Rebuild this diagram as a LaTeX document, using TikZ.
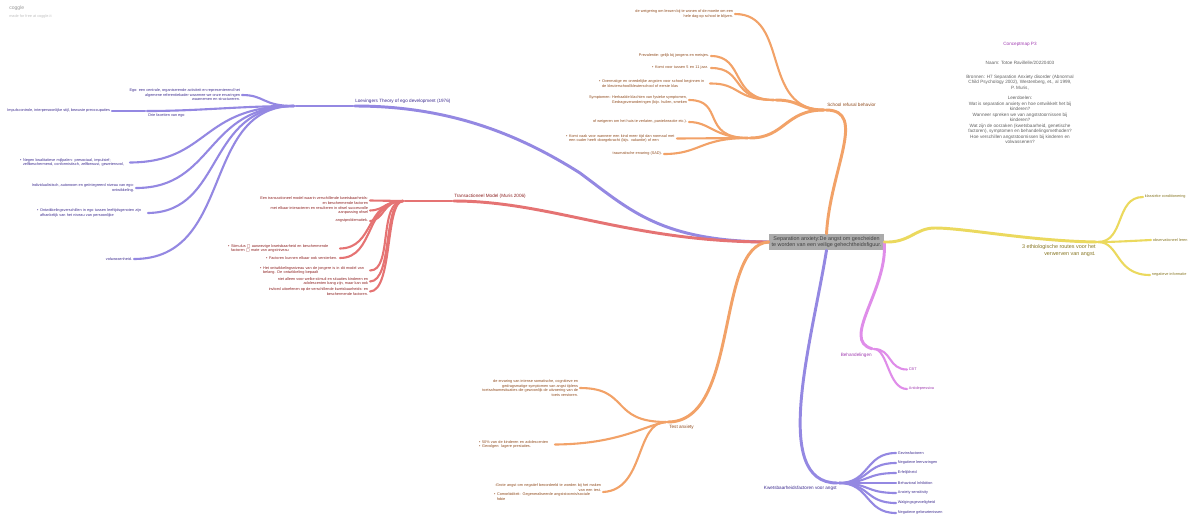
\documentclass[tikz,border=0pt]{standalone}
\usepackage{fontspec}
\setmainfont{Liberation Sans}
\newfontfamily\symfont{DejaVu Sans}
\definecolor{linepurple}{HTML}{9488E2}
\definecolor{linered}{HTML}{E57373}
\definecolor{lineorange}{HTML}{F2A268}
\definecolor{linepink}{HTML}{DF8DE9}
\definecolor{lineyellow}{HTML}{EBD95E}
\definecolor{textpurple}{HTML}{3D2C8F}
\definecolor{textred}{HTML}{8C2020}
\definecolor{textorange}{HTML}{8F4A1C}
\definecolor{textpink}{HTML}{A03CB0}
\definecolor{textyellow}{HTML}{857420}
\newcommand{\bul}{\leavevmode\llap{\textbullet\hspace{1.2pt}}}
\newcommand{\sqbox}{{\symfont □}}
\tikzset{
  small/.style={font=\fontsize{2.72}{3.2}\selectfont,inner sep=0pt},
  big/.style={font=\fontsize{3.3}{4}\selectfont,inner sep=0pt},
  mid/.style={font=\fontsize{3.3}{4}\selectfont,inner sep=0pt},
  leafl/.style={small,anchor=east,align=right,outer sep=1.4pt},
  leafr/.style={small,anchor=east,align=left,outer sep=1.4pt},
  leaft/.style={small,anchor=west,align=left,outer sep=1.4pt},
  joint/.style={circle,inner sep=0pt,minimum size=0.9pt},
  twig/.style={line width=1.5pt,line cap=round},
  trunk/.style={line width=2.1pt,line cap=round},
  note/.style={font=\fontsize{3.3}{3.9}\selectfont,inner sep=0pt,align=center,text=black!62},
}
\begin{document}
\begin{tikzpicture}[x=0.25mm,y=-0.25mm]
   \useasboundingbox (0,0) rectangle (1200,527);
   % top left
   \node[font=\fontsize{3.6}{4}\selectfont,inner sep=0pt,anchor=west,text=black!40] (logo) at (9,8) {coggle};
   \node[small,anchor=west,text=black!25] (made) at (9,16.5) {made for free at coggle.it};
   % centre
   \node[fill=black!33,text=black!75,font=\fontsize{3.85}{4.3}\selectfont,align=center,minimum width=28.75mm,minimum height=4mm,inner sep=0pt] (anx) at (826.5,242)
     {Separation anxiety:De angst om gescheiden\\te worden van een veilige gehechtheidsfiguur.};
   % notes on the right
   \node[note,text=textpink] (concept) at (1020,44) {Conceptmap P3};
   \node[note] (naam) at (1020,63) {Naam: Totoe Ravillelle/20220403};
   \node[note] (bron) at (1020,82.5) {Bronnen: H7 Separation Anxiety disorder (Abnormal\\Child Psychology 2002), Westenberg, et., al 1999,\\P. Muris,};
   \node[note] (doel) at (1020,120) {Leerdoelen:\\Wat is separation anxiety en hoe ontwikkelt het bij\\kinderen?\\Wanneer spreken we van angststoornissen bij\\kinderen?\\Wat zijn de oorzaken (kwetsbaarheid, genetische\\factoren), symptomen en behandelingsmethoden?\\Hoe verschillen angststoornissen bij kinderen en\\volwassenen?};
   % Loevinger
   \node[joint] (loe) at (354,106) {};
   \node[joint] (fac) at (295,106) {};
   \node[joint] (dri) at (146,111) {};
   \coordinate (lbend) at (580,173);
   \node[big,anchor=west,text=textpurple] (loetxt) at (355,101) {Loevingers Theory of ego development (1976)};
   \node[small,anchor=west,text=textpurple] (dritxt) at (148,116) {Drie facetten van ego};
   \node[leafl,text=textpurple] (ego) at (242,95) {Ego: een centrale, organiserende activiteit en representerend het\\algemene referentiekader waarmee we onze ervaringen\\waarnemen en structureren.};
   \node[leafl,text=textpurple] (imp) at (112,111) {Impulscontrole, interpersoonlijke stijl, bewuste preoccupaties};
   \node[leafr,text=textpurple,text width=26.25mm] (neg) at (130,162.5) {\bul Negen kwalitatieve mijlpalen: presociaal, impulsief;\\zelfbeschermend, conformistisch, zelfbewust, gewetensvol,};
   \node[leafl,text=textpurple] (ind) at (136,188) {Individualistisch, autonoom en geïntegreerd niveau van ego-\\ontwikkeling.};
   \node[leafr,text=textpurple,text width=26.5mm] (ont) at (148,213) {\bul Ontwikkelingsverschillen in ego tussen leeftijdsgenoten zijn\\afhankelijk van het niveau van persoonlijke};
   \node[leafl,text=textpurple] (vol) at (134,259) {volwassenheid.};
   \draw[trunk,linepurple] (loe) .. controls (450,106) and (520,135) .. (lbend) .. controls (630,210) and (660,241) .. (anx.west);
   \draw[trunk,linepurple] (loe) -- (fac);
   \draw[twig,linepurple] (ego.east) .. controls (265,95) and (262,106) .. (fac);
   \draw[twig,linepurple] (imp.east) -- (dri);
   \draw[twig,linepurple] (dri) .. controls (200,111) and (240,106) .. (fac);
   \draw[twig,linepurple] (neg.east) .. controls (210,162) and (200,106) .. (fac);
   \draw[twig,linepurple] (ind.east) .. controls (215,188) and (205,106) .. (fac);
   \draw[twig,linepurple] (ont.east) .. controls (225,212) and (205,106) .. (fac);
   \draw[twig,linepurple] (vol.east) .. controls (235,259) and (200,106) .. (fac);
   % Muris
   \node[joint] (tra) at (453,201) {};
   \node[joint] (mur) at (404,201) {};
   \node[big,anchor=west,text=textred] (tratxt) at (454,196) {Transactioneel Model (Muris 2006)};
   \node[leafl,text=textred] (een) at (370,200.5) {Een transactioneel model waarin verschillende kwetsbaarheids-\\en beschermende factoren};
   \node[leafl,text=textred] (met) at (370,210.5) {met elkaar interacteren en resulteren in ofwel succesvolle\\aanpassing ofwel};
   \node[leafl,text=textred] (pro) at (370,221) {angstproblematiek.};
   \node[leafr,text=textred,text width=26.75mm] (sti) at (340,248.5) {\bul Stimulus \sqbox\ aanwezige kwetsbaarheid en beschermende\\factoren \sqbox\ mate van angstniveau};
   \node[leafr,text=textred,text width=17.25mm] (fak) at (340,258) {\bul Factoren kunnen elkaar ook versterken.};
   \node[leafr,text=textred,text width=26.25mm] (het) at (370,270.5) {\bul Het ontwikkelingsniveau van de jongere is in dit model van\\belang. De ontwikkeling bepaalt};
   \node[leafl,text=textred] (nie) at (370,281.5) {niet alleen voor welke stimuli en situaties kinderen en\\adolescenten bang zijn, maar kan ook};
   \node[leafl,text=textred] (inv) at (370,291.5) {invloed uitoefenen op de verschillende kwetsbaarheids- en\\beschermende factoren.};
   \draw[trunk,linered] (tra) .. controls (550,201) and (630,242) .. (anx.west);
   \draw[trunk,linered] (tra) -- (mur);
   \draw[twig,linered] (een.east) -- (mur);
   \draw[twig,linered] (met.east) .. controls (385,210) and (385,201) .. (mur);
   \draw[twig,linered] (pro.east) .. controls (385,220) and (382,201) .. (mur);
   \draw[twig,linered] (sti.east) .. controls (375,248) and (365,201) .. (mur);
   \draw[twig,linered] (fak.east) .. controls (375,258) and (365,201) .. (mur);
   \draw[twig,linered] (het.east) .. controls (393,271) and (378,201) .. (mur);
   \draw[twig,linered] (nie.east) .. controls (393,281) and (383,201) .. (mur);
   \draw[twig,linered] (inv.east) .. controls (393,291) and (385,201) .. (mur);
   % school refusal
   \node[joint] (sch) at (825,110) {};
   \node[joint] (sca) at (775,100) {};
   \node[joint] (scb) at (749,138) {};
   \node[mid,anchor=west,text=textorange] (schtxt) at (827,104.5) {School refusal behavior};
   \node[leafl,text=textorange] (wei) at (735,14) {de weigering om lessen bij te wonen of de moeite om een\\hele dag op school te blijven.};
   \node[leafl,text=textorange] (pre) at (711,56) {Prevalentie: gelijk bij jongens en meisjes.};
   \node[leafr,text=textorange,text width=13.5mm] (kom) at (711,68) {\bul Komt voor tussen 5 en 11 jaar.};
   \node[leafr,text=textorange,text width=26.5mm] (ove) at (710,83.5) {\bul Overmatige en onredelijke angsten voor school beginnen in\\de kleuterschool/kleuterschool of eerste klas};
   \node[leafl,text=textorange] (sym) at (689,100) {Symptomen: Herhaalde klachten van fysieke symptomen,\\Gedragsveranderingen (bijv. huilen, smeken};
   \node[leafl,text=textorange] (huis) at (689,122) {of weigeren om het huis te verlaten, paniekreactie etc.).};
   \node[leafr,text=textorange,text width=26.5mm] (vaak) at (677,138.5) {\bul Komt vaak voor wanneer een kind meer tijd dan normaal met\\een ouder heeft doorgebracht (bijv. vakantie) of een};
   \node[leafl,text=textorange] (tra2) at (664,154) {traumatische ervaring (SAD).};
   \draw[trunk,lineorange] (sch) .. controls (868,110) and (830,170) .. (anx.north);
   \draw[trunk,lineorange] (sch) .. controls (800,110) and (800,100) .. (sca);
   \draw[trunk,lineorange] (sch) .. controls (785,110) and (785,138) .. (scb);
   \draw[twig,lineorange] (wei.east) .. controls (790,14) and (760,110) .. (sch);
   \draw[twig,lineorange] (pre.east) .. controls (745,56) and (730,100) .. (sca);
   \draw[twig,lineorange] (kom.east) .. controls (745,68) and (730,100) .. (sca);
   \draw[twig,lineorange] (ove.east) .. controls (740,83) and (735,100) .. (sca);
   \draw[twig,lineorange] (sym.east) .. controls (725,100) and (700,138) .. (scb);
   \draw[twig,lineorange] (huis.east) .. controls (710,122) and (715,138) .. (scb);
   \draw[twig,lineorange] (vaak.east) -- (scb);
   \draw[twig,lineorange] (tra2.east) .. controls (700,154) and (700,138) .. (scb);
   % test anxiety
   \node[joint] (tes) at (667,422) {};
   \node[mid,anchor=west,text=textorange] (testxt) at (669,427) {Test anxiety};
   \node[leafl,text=textorange] (erv) at (580,388) {de ervaring van intense somatische, cognitieve en\\gedragsmatige symptomen van angst tijdens\\toetsafnamesituaties die gewoonlijk de uitvoering van de\\toets verstoren.};
   \node[leafr,text=textorange,text width=17.75mm] (hel) at (555,444.5) {\bul 50\% van de kinderen en adolescenten\\\bul Gevolgen: lagere prestaties.};
   \node[leafr,text=textorange,text width=27.25mm] (gro) at (603,492) {\hfill-Grote angst om negatief beoordeeld te worden bij het maken\\\hfill van een test.\\\hspace*{1.25mm}\bul Comorbiditeit: Gegeneraliseerde angststoornis/sociale\\\hspace*{1.25mm}fobie};
   \draw[trunk,lineorange] (tes) .. controls (740,422) and (715,245) .. (anx.west);
   \draw[twig,lineorange] (erv.east) .. controls (630,388) and (610,422) .. (tes);
   \draw[twig,lineorange] (hel.east) .. controls (620,444) and (645,425) .. (tes);
   \draw[twig,lineorange] (gro.east) .. controls (645,490) and (635,422) .. (tes);
   % treatment
   \node[joint] (beh) at (873,349) {};
   \node[mid,anchor=east,text=textpink] (behtxt) at (872,355) {Behandelingen};
   \node[leaft,text=textpink] (cbt) at (907,369.5) {CBT};
   \node[leaft,text=textpink] (ant) at (907,389) {Antidepressiva};
   \draw[trunk,linepink] (anx.east) .. controls (888,290) and (840,340) .. (beh);
   \draw[twig,linepink] (beh) .. controls (892,349) and (888,369.5) .. (cbt.west);
   \draw[twig,linepink] (beh) .. controls (888,349) and (888,389) .. (ant.west);
   % vulnerability
   \node[joint] (kwe) at (838,483) {};
   \node[mid,anchor=east,text=textpurple] (kwetxt) at (837,488) {Kwetsbaarheidsfactoren voor angst};
   \node[leaft,text=textpurple] (k1) at (896,453) {Gezinsfactoren};
   \node[leaft,text=textpurple] (k2) at (896,463) {Negatieve leervaringen};
   \node[leaft,text=textpurple] (k3) at (896,473) {Erfelijkheid};
   \node[leaft,text=textpurple] (k4) at (896,483) {Behavioral Inhibition};
   \node[leaft,text=textpurple] (k5) at (896,493) {Anxiety sensitivity};
   \node[leaft,text=textpurple] (k6) at (896,503) {Walgingsgevoeligheid};
   \node[leaft,text=textpurple] (k7) at (896,513) {Negatieve gebeurtenissen};
   \draw[trunk,linepurple] (anx.south) .. controls (812,340) and (770,483) .. (kwe);
   \draw[twig,linepurple] (kwe) .. controls (870,483) and (865,453) .. (k1.west);
   \draw[twig,linepurple] (kwe) .. controls (870,483) and (865,463) .. (k2.west);
   \draw[twig,linepurple] (kwe) .. controls (870,483) and (865,473) .. (k3.west);
   \draw[twig,linepurple] (kwe) -- (k4.west);
   \draw[twig,linepurple] (kwe) .. controls (870,483) and (865,493) .. (k5.west);
   \draw[twig,linepurple] (kwe) .. controls (870,483) and (865,503) .. (k6.west);
   \draw[twig,linepurple] (kwe) .. controls (870,483) and (865,513) .. (k7.west);
   % routes
   \coordinate (ybend) at (935,228);
   \node[joint] (yel) at (1097,242) {};
   \node[font=\fontsize{3.85}{5}\selectfont,inner sep=0pt,anchor=east,align=right,text=textyellow] (yeltxt) at (1096,251) {3 ethiologische routes voor het\\verwerven van angst.};
   \node[leaft,text=textyellow] (kla) at (1143,197) {klassieke conditionering};
   \node[leaft,text=textyellow] (obs) at (1151,240) {observationeel leren};
   \node[leaft,text=textyellow] (inf) at (1150,275) {negatieve informatie};
   \draw[trunk,lineyellow] (anx.east) .. controls (910,243) and (915,228) .. (ybend) .. controls (965,228) and (1030,241) .. (yel);
   \draw[twig,lineyellow] (yel) .. controls (1125,242) and (1115,197) .. (kla.west);
   \draw[twig,lineyellow] (yel) .. controls (1115,242) and (1130,241) .. (obs.west);
   \draw[twig,lineyellow] (yel) .. controls (1120,242) and (1115,275) .. (inf.west);
\end{tikzpicture}
\end{document}
